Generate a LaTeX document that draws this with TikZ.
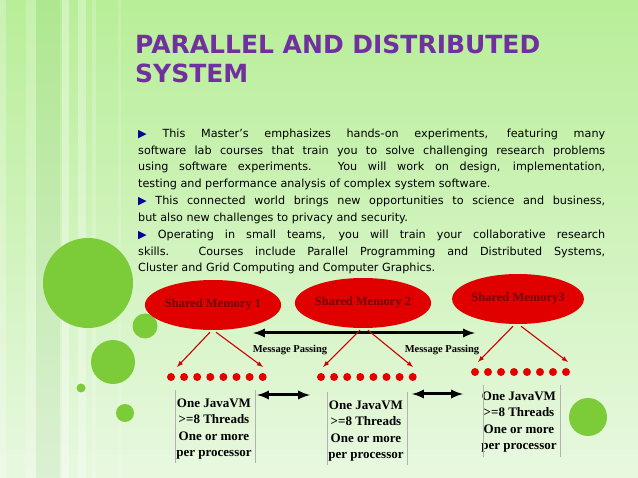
\documentclass[tikz,border=0pt]{standalone}
\usepackage{fontspec}
\setmainfont{Liberation Serif}
\newfontfamily\dv{DejaVu Sans}
\usetikzlibrary{shapes.geometric}
\begin{document}
\begin{tikzpicture}[x=1pt,y=-1pt,
  sm/.style={ellipse,fill=red!88!black,minimum width=110pt,minimum height=50pt,inner sep=0pt,font=\fontsize{12.5}{12}\selectfont\bfseries,text=red!45!black},
  rarr/.style={draw=red!80!black,line width=1.1pt,-latex},
  barr/.style={line width=3pt,latex-latex,black},
  dot/.style={circle,fill=red!90!black,minimum size=8pt,inner sep=0pt},
  blk/.style={align=center,font=\fontsize{13}{16.5}\selectfont\bfseries},
  gl/.style={draw=gray!60,line width=0.6pt},
  bl/.style={anchor=base west,inner sep=0pt,font=\dv\fontsize{11.2}{12}\selectfont},
  pm/.style={font=\fontsize{10.5}{10}\selectfont\bfseries,inner sep=0pt}]
\useasboundingbox (0,0) rectangle (638,478);
\shade[top color={rgb,255:red,184;green,238;blue,152},bottom color={rgb,255:red,232;green,248;blue,224}] (0,0) rectangle (638,478);
\fill[white,opacity=0.25] (0,0) rectangle (6,478);
\fill[white,opacity=0.2] (26,0) rectangle (36,478);
\fill[green!40!black,opacity=0.05] (36,0) rectangle (60,478);
\fill[white,opacity=0.35] (62,0) rectangle (69,478);
\fill[white,opacity=0.3] (78,0) rectangle (86,478);
\fill[white,opacity=0.2] (92,0) rectangle (96,478);
\fill[white,opacity=0.15] (118,0) rectangle (121,478);
\definecolor{bub}{RGB}{124,204,58}
\fill[bub] (88,283) circle (45);
\fill[bub] (145,326) circle (12.5);
\fill[bub] (113,362) circle (22);
\fill[bub] (81,388) circle (4.5);
\fill[bub] (125,413) circle (9);
\fill[bub] (588,417) circle (19);
\definecolor{ttl}{RGB}{112,48,160}
\node[anchor=base west,inner sep=0pt,text=ttl,font=\dv\bfseries\fontsize{25}{25}\selectfont] (t1) at (135,54) {PARALLEL AND DISTRIBUTED};
\node[anchor=base west,inner sep=0pt,text=ttl,font=\dv\bfseries\fontsize{25}{25}\selectfont] (t2) at (135,83) {SYSTEM};
\def\tri{{\color{blue!60!black}▶}}
\node[bl] (a1) at (138,138) {\makebox[467pt][s]{\tri\ This Master’s emphasizes hands-on experiments, featuring many}};
\node[bl] (a2) at (138,154.5) {\makebox[467pt][s]{software lab courses that train you to solve challenging research problems}};
\node[bl] (a3) at (138,171) {\makebox[467pt][s]{using software experiments. You will work on design, implementation,}};
\node[bl] (a4) at (138,187.5) {testing and performance analysis of complex system software.};
\node[bl] (b1) at (138,205) {\makebox[467pt][s]{\tri\ This connected world brings new opportunities to science and business,}};
\node[bl] (b2) at (138,221.5) {but also new challenges to privacy and security.};
\node[bl] (c1) at (138,239) {\makebox[467pt][s]{\tri\ Operating in small teams, you will train your collaborative research}};
\node[bl] (c2) at (138,255.5) {\makebox[467pt][s]{skills. Courses include Parallel Programming and Distributed Systems,}};
\node[bl] (c3) at (138,272) {Cluster and Grid Computing and Computer Graphics.};
% diagram
\node[sm] (s1) at (213,305) {Shared Memory 1};
\node[sm] (s2) at (363,303) {Shared Memory 2};
\node[sm] (s3) at (518,299) {Shared Memory3};
\coordinate (m1) at (253,333); \coordinate (m2) at (475,333);
\draw[barr] (m1) -- (m2);
\node[pm] (p1) at (290,350) {Message Passing};
\node[pm] (p2) at (442,350) {Message Passing};
\coordinate (e1) at (177,367); \coordinate (e2) at (263,367);
\coordinate (e3) at (323,367); \coordinate (e4) at (413,367);
\coordinate (e5) at (478,362); \coordinate (e6) at (568,362);
\draw[rarr] (s1.south) ++(-3,2) -- (e1);
\draw[rarr] (s1.south) ++(3,2) -- (e2);
\draw[rarr] (s2.south) ++(-3,2) -- (e3);
\draw[rarr] (s2.south) ++(5,2) -- (e4);
\draw[rarr] (s3.south) ++(-5,2) -- (e5);
\draw[rarr] (s3.south) ++(3,2) -- (e6);
\foreach \i in {0,...,7}{
  \node[dot] (d1\i) at (171+13.1*\i,377) {};
  \node[dot] (d2\i) at (321+13.1*\i,377) {};
  \node[dot] (d3\i) at (475+13*\i,372) {};
}
\coordinate (h1) at (257,395); \coordinate (h2) at (310,395);
\coordinate (h3) at (412,394); \coordinate (h4) at (463,394);
\draw[barr] (h1) -- (h2);
\draw[barr] (h3) -- (h4);
\node[blk] (k1) at (214,429) {One JavaVM\\>=8 Threads\\One or more\\per processor};
\node[blk] (k2) at (366,431) {One JavaVM\\>=8 Threads\\One or more\\per processor};
\node[blk] (k3) at (519,422) {One JavaVM\\>=8 Threads\\One or more\\per processor};
\draw[gl] (175,390) -- (175,463); \draw[gl] (255,390) -- (255,463);
\draw[gl] (327,392) -- (327,465); \draw[gl] (407,392) -- (407,465);
\draw[gl] (483,385) -- (483,457); \draw[gl] (560,385) -- (560,457);
\end{tikzpicture}
\end{document}
